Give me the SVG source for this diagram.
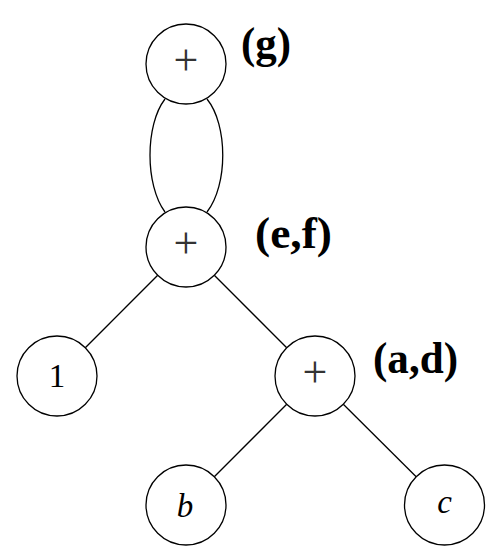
<svg xmlns="http://www.w3.org/2000/svg" width="500" height="560" viewBox="0 0 500 560">
<style>
.n{fill:#fff;stroke:#000;stroke-width:1.3}
.t{font-family:"Liberation Serif",serif;font-size:33px;text-anchor:middle;fill:#000}
.p{font-family:"Liberation Serif",serif;font-size:44px;text-anchor:middle;fill:#333}
.i{font-style:italic}
.l{font-family:"Liberation Serif",serif;font-size:44px;font-weight:bold;fill:#000}
.e{fill:none;stroke:#000;stroke-width:1.3}
</style>
<rect width="500" height="560" fill="#fff"/>
<g id="connectors">
<path class="e" d="M165,99 C145,125 145,185 165,212"/>
<path class="e" d="M207,99 C228,125 228,185 207,212"/>
<line class="e" x1="157.7" y1="275.3" x2="85.3" y2="347.7"/>
<line class="e" x1="214.3" y1="275.3" x2="286.7" y2="347.7"/>
<line class="e" x1="286.7" y1="404.3" x2="214.3" y2="476.7"/>
<line class="e" x1="343.3" y1="404.3" x2="416.2" y2="476.7"/>
</g>
<g id="g">
<circle class="n" cx="186" cy="64" r="40"/>
<text class="p" x="186" y="75">+</text>
<text class="l" x="241" y="57.5" textLength="50" lengthAdjust="spacingAndGlyphs">(g)</text>
</g>
<g id="ef">
<circle class="n" cx="186" cy="247" r="40"/>
<text class="p" x="186" y="258">+</text>
<text class="l" x="255" y="247.5" textLength="77" lengthAdjust="spacingAndGlyphs">(e,f)</text>
</g>
<g id="one">
<circle class="n" cx="57" cy="376" r="40"/>
<text class="t" x="57" y="387">1</text>
</g>
<g id="ad">
<circle class="n" cx="315" cy="376" r="40"/>
<text class="p" x="315" y="387">+</text>
<text class="l" x="373" y="372.5" textLength="85" lengthAdjust="spacingAndGlyphs">(a,d)</text>
</g>
<g id="b">
<circle class="n" cx="186" cy="505" r="40"/>
<text class="t i" x="185" y="517">b</text>
</g>
<g id="c">
<circle class="n" cx="444.5" cy="505" r="40"/>
<text class="t i" x="444.5" y="512.5">c</text>
</g>
</svg>
